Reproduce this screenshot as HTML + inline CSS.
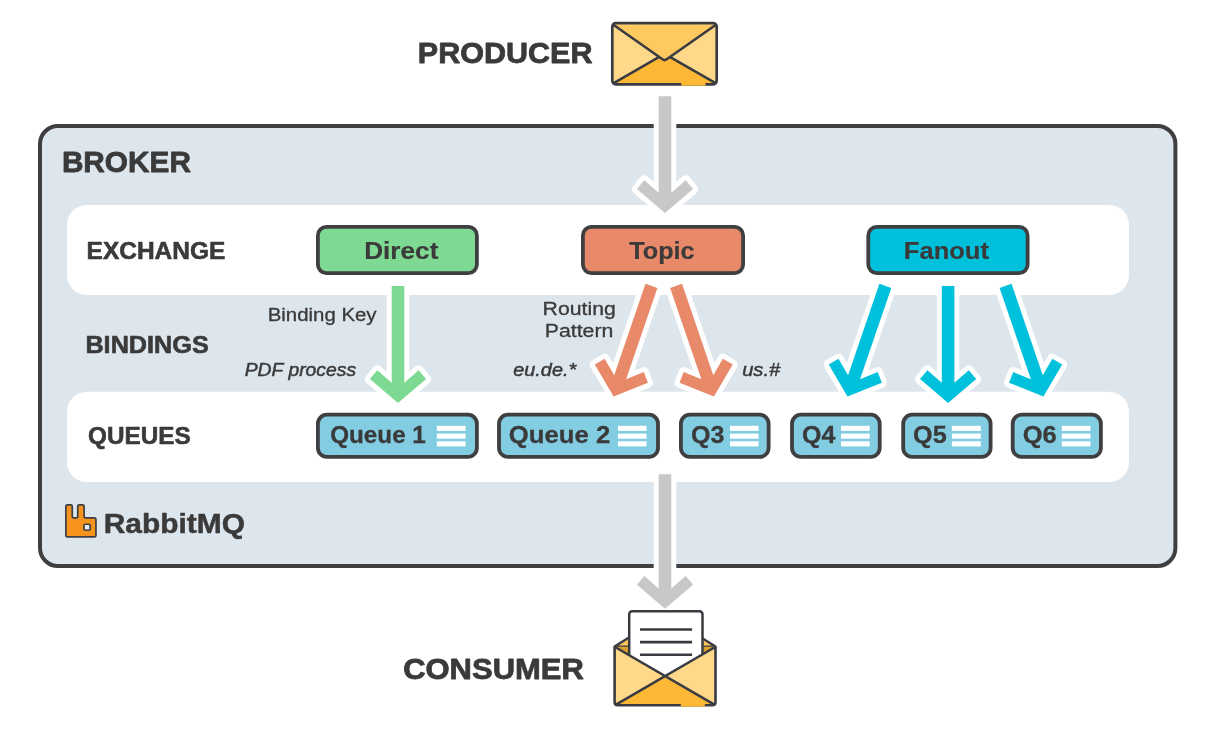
<!DOCTYPE html>
<html lang="en">
<head>
<meta charset="utf-8">
<title>RabbitMQ exchanges, bindings and queues</title>
<style>
html,body{margin:0;padding:0;background:#fff;}
body{width:1206px;height:736px;overflow:hidden;}
svg{display:block;will-change:transform;}
text{font-family:"Liberation Sans",sans-serif;fill:#3a3a3a;}
.b{font-weight:700;}
.r{font-weight:400;}
.i{font-weight:400;font-style:italic;}
</style>
</head>
<body>
<svg width="1206" height="736" viewBox="0 0 1206 736">
<rect x="40" y="126" width="1135.4" height="440" rx="18" ry="18" fill="#dee6ed" stroke="#3f3f41" stroke-width="4"/>
<rect x="67" y="205" width="1062" height="90" rx="20" fill="#fff"/>
<rect x="67" y="391.7" width="1062" height="90.3" rx="20" fill="#fff"/>
<polygon transform="translate(665 213.1) rotate(0)" points="0,0 -28.1,-24.0 -20.7,-32.8 -6.3,-20.3 -6.3,-116.8 6.3,-116.8 6.3,-20.3 20.7,-32.8 28.1,-24.0" fill="#c8c8c8" stroke="#fff" stroke-width="10" stroke-linejoin="round" paint-order="stroke"/>
<polygon transform="translate(665 608.7) rotate(0)" points="0,0 -28.1,-24.0 -20.7,-32.8 -6.3,-20.3 -6.3,-134.5 6.3,-134.5 6.3,-20.3 20.7,-32.8 28.1,-24.0" fill="#c8c8c8" stroke="#fff" stroke-width="10" stroke-linejoin="round" paint-order="stroke"/>
<polygon transform="translate(398.0 403.1) rotate(0)" points="0,0 -28.1,-24.0 -20.7,-32.8 -6.3,-20.3 -6.3,-117.1 6.3,-117.1 6.3,-20.3 20.7,-32.8 28.1,-24.0" fill="#7ed993" stroke="#fff" stroke-width="10" stroke-linejoin="round" paint-order="stroke"/>
<polygon transform="translate(613.6 396.4) rotate(18.9)" points="0,0 -28.1,-24.0 -20.7,-32.8 -6.3,-20.3 -6.3,-116.8 6.3,-116.8 6.3,-20.3 20.7,-32.8 28.1,-24.0" fill="#e8896a" stroke="#fff" stroke-width="10" stroke-linejoin="round" paint-order="stroke"/>
<polygon transform="translate(713.9 396.4) rotate(-18.9)" points="0,0 -28.1,-24.0 -20.7,-32.8 -6.3,-20.3 -6.3,-116.8 6.3,-116.8 6.3,-20.3 20.7,-32.8 28.1,-24.0" fill="#e8896a" stroke="#fff" stroke-width="10" stroke-linejoin="round" paint-order="stroke"/>
<polygon transform="translate(847.5 396.4) rotate(18.9)" points="0,0 -28.1,-24.0 -20.7,-32.8 -6.3,-20.3 -6.3,-116.8 6.3,-116.8 6.3,-20.3 20.7,-32.8 28.1,-24.0" fill="#00c1dc" stroke="#fff" stroke-width="10" stroke-linejoin="round" paint-order="stroke"/>
<polygon transform="translate(948.1 403.1) rotate(0)" points="0,0 -28.1,-24.0 -20.7,-32.8 -6.3,-20.3 -6.3,-117.1 6.3,-117.1 6.3,-20.3 20.7,-32.8 28.1,-24.0" fill="#00c1dc" stroke="#fff" stroke-width="10" stroke-linejoin="round" paint-order="stroke"/>
<polygon transform="translate(1043.4 396.4) rotate(-18.9)" points="0,0 -28.1,-24.0 -20.7,-32.8 -6.3,-20.3 -6.3,-116.8 6.3,-116.8 6.3,-20.3 20.7,-32.8 28.1,-24.0" fill="#00c1dc" stroke="#fff" stroke-width="10" stroke-linejoin="round" paint-order="stroke"/>
<rect x="317.90" y="226.90" width="159.00" height="46.20" rx="8.5" ry="8.5" fill="#7ed993" stroke="#3f3f41" stroke-width="3.8"/>
<rect x="582.90" y="226.90" width="160.20" height="46.20" rx="8.5" ry="8.5" fill="#e8896a" stroke="#3f3f41" stroke-width="3.8"/>
<rect x="868.30" y="226.90" width="159.30" height="46.20" rx="8.5" ry="8.5" fill="#00c1dc" stroke="#3f3f41" stroke-width="3.8"/>
<rect x="317.90" y="414.70" width="159.00" height="42.20" rx="9" ry="9" fill="#82cde2" stroke="#3f3f41" stroke-width="3.8"/>
<rect x="499.00" y="414.70" width="159.00" height="42.20" rx="9" ry="9" fill="#82cde2" stroke="#3f3f41" stroke-width="3.8"/>
<rect x="680.90" y="414.70" width="87.70" height="42.20" rx="9" ry="9" fill="#82cde2" stroke="#3f3f41" stroke-width="3.8"/>
<rect x="792.00" y="414.70" width="87.70" height="42.20" rx="9" ry="9" fill="#82cde2" stroke="#3f3f41" stroke-width="3.8"/>
<rect x="903.20" y="414.70" width="87.40" height="42.20" rx="9" ry="9" fill="#82cde2" stroke="#3f3f41" stroke-width="3.8"/>
<rect x="1012.70" y="414.70" width="88.20" height="42.20" rx="9" ry="9" fill="#82cde2" stroke="#3f3f41" stroke-width="3.8"/>
<rect x="436.8" y="425.8" width="28.8" height="5.1" fill="#fff"/><rect x="436.8" y="433.6" width="28.8" height="5.1" fill="#fff"/><rect x="436.8" y="441.3" width="28.8" height="5.1" fill="#fff"/>
<rect x="618" y="425.8" width="28.6" height="5.1" fill="#fff"/><rect x="618" y="433.6" width="28.6" height="5.1" fill="#fff"/><rect x="618" y="441.3" width="28.6" height="5.1" fill="#fff"/>
<rect x="730" y="425.8" width="28.6" height="5.1" fill="#fff"/><rect x="730" y="433.6" width="28.6" height="5.1" fill="#fff"/><rect x="730" y="441.3" width="28.6" height="5.1" fill="#fff"/>
<rect x="841" y="425.8" width="28.7" height="5.1" fill="#fff"/><rect x="841" y="433.6" width="28.7" height="5.1" fill="#fff"/><rect x="841" y="441.3" width="28.7" height="5.1" fill="#fff"/>
<rect x="951.9" y="425.8" width="28.9" height="5.1" fill="#fff"/><rect x="951.9" y="433.6" width="28.9" height="5.1" fill="#fff"/><rect x="951.9" y="441.3" width="28.9" height="5.1" fill="#fff"/>
<rect x="1061.8" y="425.8" width="28.6" height="5.1" fill="#fff"/><rect x="1061.8" y="433.6" width="28.6" height="5.1" fill="#fff"/><rect x="1061.8" y="441.3" width="28.6" height="5.1" fill="#fff"/>
<text class="b" x="417.82" y="62.8" font-size="30" textLength="174.63" lengthAdjust="spacingAndGlyphs" stroke="#3a3a3a" stroke-width="0.8" stroke-linejoin="round">PRODUCER</text>
<text class="b" x="61.89" y="172.1" font-size="30" textLength="129.02" lengthAdjust="spacingAndGlyphs" stroke="#3a3a3a" stroke-width="0.8" stroke-linejoin="round">BROKER</text>
<text class="b" x="86.6" y="258.7" font-size="24.0" textLength="138.75" lengthAdjust="spacingAndGlyphs" stroke="#3a3a3a" stroke-width="0.6" stroke-linejoin="round">EXCHANGE</text>
<text class="b" x="85.42" y="353.1" font-size="24" textLength="123.34" lengthAdjust="spacingAndGlyphs" stroke="#3a3a3a" stroke-width="0.6" stroke-linejoin="round">BINDINGS</text>
<text class="b" x="88.02" y="443.9" font-size="24.0" textLength="102.58" lengthAdjust="spacingAndGlyphs" stroke="#3a3a3a" stroke-width="0.6" stroke-linejoin="round">QUEUES</text>
<text class="b" x="403.16" y="678.8" font-size="30" textLength="180.71" lengthAdjust="spacingAndGlyphs" stroke="#3a3a3a" stroke-width="0.8" stroke-linejoin="round">CONSUMER</text>
<text class="b" x="364.21" y="258.9" font-size="24.0" textLength="74.16" lengthAdjust="spacingAndGlyphs" stroke="#3a3a3a" stroke-width="0.2" stroke-linejoin="round">Direct</text>
<text class="b" x="629.26" y="258.9" font-size="24.0" textLength="65.38" lengthAdjust="spacingAndGlyphs" stroke="#3a3a3a" stroke-width="0.2" stroke-linejoin="round">Topic</text>
<text class="b" x="903.86" y="258.8" font-size="24.0" textLength="85.06" lengthAdjust="spacingAndGlyphs" stroke="#3a3a3a" stroke-width="0.2" stroke-linejoin="round">Fanout</text>
<text class="r" x="267.69" y="321.0" font-size="17.5" textLength="108.86" lengthAdjust="spacingAndGlyphs" stroke="#3a3a3a" stroke-width="0.3" stroke-linejoin="round">Binding Key</text>
<text class="r" x="542.63" y="315.3" font-size="17.5" textLength="73.14" lengthAdjust="spacingAndGlyphs" stroke="#3a3a3a" stroke-width="0.3" stroke-linejoin="round">Routing</text>
<text class="r" x="544.81" y="336.8" font-size="17.5" textLength="68.55" lengthAdjust="spacingAndGlyphs" stroke="#3a3a3a" stroke-width="0.3" stroke-linejoin="round">Pattern</text>
<text class="i" x="244.66" y="375.7" font-size="17.5" textLength="111.47" lengthAdjust="spacingAndGlyphs" stroke="#3a3a3a" stroke-width="0.45" stroke-linejoin="round">PDF process</text>
<text class="i" x="513.28" y="375.8" font-size="17.5" textLength="62.89" lengthAdjust="spacingAndGlyphs" stroke="#3a3a3a" stroke-width="0.45" stroke-linejoin="round">eu.de.*</text>
<text class="i" x="742.19" y="375.8" font-size="17.5" textLength="38.01" lengthAdjust="spacingAndGlyphs" stroke="#3a3a3a" stroke-width="0.45" stroke-linejoin="round">us.#</text>
<text class="b" x="330.22" y="443.0" font-size="23.5" textLength="95.62" lengthAdjust="spacingAndGlyphs" stroke="#3a3a3a" stroke-width="0.3" stroke-linejoin="round">Queue 1</text>
<text class="b" x="508.86" y="443.0" font-size="23.5" textLength="101.33" lengthAdjust="spacingAndGlyphs" stroke="#3a3a3a" stroke-width="0.3" stroke-linejoin="round">Queue 2</text>
<text class="b" x="690.92" y="443.0" font-size="23.5" textLength="33.43" lengthAdjust="spacingAndGlyphs" stroke="#3a3a3a" stroke-width="0.3" stroke-linejoin="round">Q3</text>
<text class="b" x="802.01" y="443.0" font-size="23.5" textLength="33.32" lengthAdjust="spacingAndGlyphs" stroke="#3a3a3a" stroke-width="0.3" stroke-linejoin="round">Q4</text>
<text class="b" x="913.05" y="443.0" font-size="23.5" textLength="33.59" lengthAdjust="spacingAndGlyphs" stroke="#3a3a3a" stroke-width="0.3" stroke-linejoin="round">Q5</text>
<text class="b" x="1022.7" y="443.0" font-size="23.5" textLength="34.02" lengthAdjust="spacingAndGlyphs" stroke="#3a3a3a" stroke-width="0.3" stroke-linejoin="round">Q6</text>
<text class="b" x="103.79" y="532.8" font-size="27.5" textLength="141.15" lengthAdjust="spacingAndGlyphs" stroke="#3a3a3a" stroke-width="0.5" stroke-linejoin="round">RabbitMQ</text>
<g id="env1">
<rect x="612.3" y="23.2" width="104.4" height="61.1" rx="3.5" fill="#ffd88a"/>
<path d="M613.7 83 L664.5 53 L715.6 83 Z" fill="#fdb836"/>
<path d="M613.7 25 L715.6 25 L666.5 59.5 Q664.5 61 662.5 59.5 Z" fill="#fec95f"/>
<path d="M613.7 83.2 L658.8 57.2 M715.6 83.2 L670.2 57.2" fill="none" stroke="#3a3c42" stroke-width="2.6"/>
<path d="M613.7 25 L662.5 59.3 Q664.6 60.8 666.7 59.3 L715.6 25" fill="none" stroke="#3a3c42" stroke-width="2.6" stroke-linejoin="round"/>
<rect x="612.3" y="23.2" width="104.4" height="61.1" rx="3.5" fill="none" stroke="#3a3c42" stroke-width="2.7"/>
<rect x="681.3" y="83" width="24.1" height="2.7" fill="#fdb836"/>
</g>
<g id="env2">
<path d="M614.6 646.6 L665 615 L715.5 646.6 Z" fill="#fdc65e" stroke="#3a3c42" stroke-width="2.4" stroke-linejoin="round"/>
<path d="M614.6 646.8 L715.5 646.8 L665 676.2 Z" fill="#dca030"/>
<rect x="629.2" y="611.15" width="73.3" height="75" rx="3" fill="#fff" stroke="#3a3c42" stroke-width="2.5"/>
<path d="M640 629.45 H692.1 M640 642.1 H692.1 M640 654.8 H692.1" stroke="#3a3c42" stroke-width="2.6" fill="none"/>
<path d="M614.6 646.6 L665 676.2 L715.5 646.6 L715.5 702 Q715.5 705.2 712.3 705.2 L617.8 705.2 Q614.6 705.2 614.6 702 Z" fill="#ffd88a"/>
<path d="M616 704.6 L665 676.2 L714.2 704.6 Z" fill="#fdb836"/>
<path d="M615 647 L714.4 704.6 M715.2 647 L616 704.6" fill="none" stroke="#3a3c42" stroke-width="2.6"/>
<path d="M614.6 647.6 L614.6 702 Q614.6 705.2 617.8 705.2 L712.3 705.2 Q715.5 705.2 715.5 702 L715.5 647.6" fill="none" stroke="#3a3c42" stroke-width="2.6" stroke-linejoin="round" stroke-linecap="round"/>
<rect x="680.8" y="703.9" width="24" height="2.7" fill="#fdb836"/>
</g>
<g id="rabbit">
<path d="M65.85 535.4 V506.5 Q65.85 504.95 67.4 504.95 H70.7 Q72.25 504.95 72.25 506.5 V516.6 Q72.25 517.85 73.5 517.85 H76.5 Q77.75 517.85 77.75 516.6 V506.5 Q77.75 504.95 79.3 504.95 H82.55 Q84.1 504.95 84.1 506.5 V516.6 Q84.1 517.85 85.35 517.85 H94.4 Q95.95 517.85 95.95 519.4 V535.4 Q95.95 536.95 94.4 536.95 H67.4 Q65.85 536.95 65.85 535.4 Z" fill="#f7941d" stroke="#3d3e42" stroke-width="1.7" stroke-linejoin="round"/>
<rect x="83.95" y="524.25" width="6.3" height="6" rx="1.6" fill="#e3e9ef" stroke="#3d3e42" stroke-width="1.7"/>
</g>
</svg>
</body>
</html>
